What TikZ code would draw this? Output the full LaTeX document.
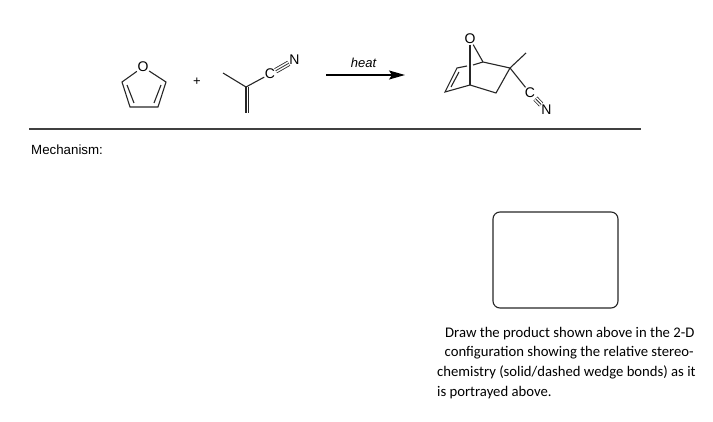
\documentclass[tikz,border=0pt]{standalone}
\usepackage{fontspec}
\setmainfont{Liberation Sans}
\newfontfamily\notefont{Carlito}
\usetikzlibrary{arrows.meta}
\tikzset{atom/.style={inner sep=0.5pt, font=\fontsize{14}{16}\selectfont},
bond/.style={line width=1.1pt, black!85},
outerbond/.style={line width=0.8pt, black!85, double=white, double distance=4pt},
note/.style={anchor=base west, inner sep=0pt, font=\notefont\fontsize{14.7}{17}\selectfont},
label/.style={anchor=west, inner sep=0pt, font=\fontsize{13.3}{15}\selectfont}}

\begin{document}
\begin{tikzpicture}[x=1pt,y=-1pt]
    \useasboundingbox (0,0) rectangle (713,422);

    % furan
    \node[atom] (fO) at (143,67) {O};
    \coordinate (f1) at (122,82);
    \coordinate (f2) at (130,107);
    \coordinate (f3) at (158,107);
    \coordinate (f4) at (166,82);
    \coordinate (f1i) at (127,85);
    \coordinate (f2i) at (134,103);
    \coordinate (f3i) at (154,103);
    \coordinate (f4i) at (161,85);

    \draw[bond] (fO) -- (f1) -- (f2) -- (f3) -- (f4) -- (fO);
    \draw[bond] (f1i) -- (f2i);
    \draw[bond] (f3i) -- (f4i);

    \node[inner sep=0pt, font=\fontsize{13}{15}\selectfont] (plus) at (197,82) {+};

    % nitrile
    \coordinate (n1) at (223,73);
    \coordinate (n2) at (246,87);
    \coordinate (n3) at (246,113);
    \coordinate (n2a) at (248.5,87);
    \coordinate (n3a) at (248.5,113);
    \node[atom] (nC) at (270,74) {C};
    \node[atom] (nN) at (294.5,60) {N};

    \draw[bond] (n1) -- (n2) -- (nC);
    \draw[bond] (n2) -- (n3);
    \draw[bond] (n2a) -- (n3a);
    \draw[outerbond] (nC) -- (nN);
    \draw[bond, line width=0.8pt] (nC) -- (nN);

    % reaction arrow
    \coordinate (a0) at (326,75);
    \coordinate (a1) at (405,75);
    \draw[line width=1.3pt, -{Stealth[length=16pt,width=9pt,inset=3pt]}] (a0) -- (a1);
    \node[inner sep=0pt, font=\itshape\fontsize{13}{15}\selectfont] (heat) at (363.5,63) {heat};

    % product
    \node[atom] (pO) at (470,39) {O};
    \coordinate (p1) at (483,62);
    \coordinate (p2) at (510,68);
    \coordinate (p3) at (526,53);
    \coordinate (p4) at (496,93);
    \coordinate (p5) at (470,85);
    \coordinate (p6) at (445,92);
    \coordinate (p7) at (457,68);
    \coordinate (p8) at (467,66);
    \coordinate (p9) at (473,65);
    \coordinate (p6i) at (451,87);
    \coordinate (p7i) at (459,72);
    \node[atom] (pC) at (530,93) {C};
    \node[atom] (pN) at (546.5,110) {N};

    \draw[bond] (pO) -- (p1) -- (p2) -- (p4) -- (p5) -- (p6) -- (p7) -- (p8);
    \draw[bond] (p9) -- (p1);
    \draw[bond] (pO) -- (p5);
    \draw[bond] (p2) -- (p3);
    \draw[bond] (p2) -- (pC);
    \draw[bond] (p6i) -- (p7i);
    \draw[outerbond] (pC) -- (pN);
    \draw[bond, line width=0.8pt] (pC) -- (pN);

    % rule
    \coordinate (r0) at (29,129);
    \coordinate (r1) at (641,129);
    \draw[line width=1.1pt, black!75] (r0) -- (r1);

    \node[label] (mech) at (31,150) {Mechanism:};

    \node[draw, line width=1.1pt, black!85, rounded corners=7pt, minimum width=125pt, minimum height=96pt, inner sep=0pt] (box) at (555.5,260) {};

    \node[note] (t1) at (445,337.5) {Draw the product shown above in the 2-D};
    \node[note] (t2) at (444.5,357) {configuration showing the relative stereo-};
    \node[note] (t3) at (437,376.5) {chemistry (solid/dashed wedge bonds) as it};
    \node[note] (t4) at (437,396.5) {is portrayed above.};

  \end{tikzpicture}
\end{document}
